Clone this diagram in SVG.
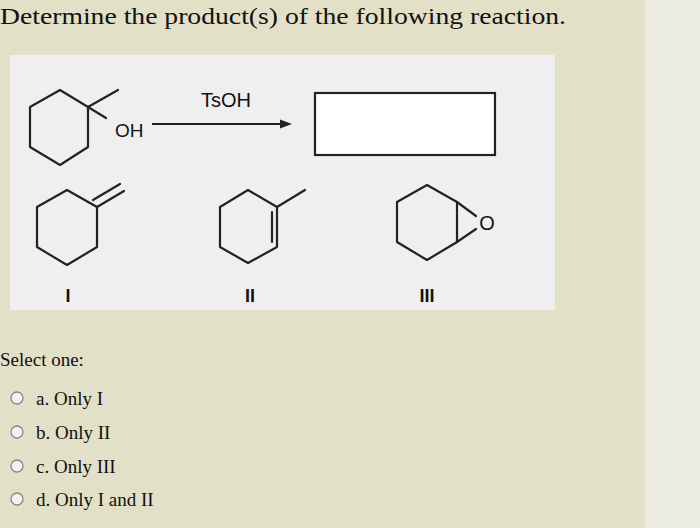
<svg xmlns="http://www.w3.org/2000/svg" width="700" height="528" viewBox="0 0 700 528">
<style>
.b{fill:none;stroke:#222;stroke-width:2.2;stroke-linecap:round;stroke-linejoin:round}
.s{font-family:"Liberation Sans",Arial,sans-serif;fill:#111}
.t{font-family:"Liberation Serif","DejaVu Serif",serif;fill:#111}
</style>
<rect width="700" height="528" fill="#e2e0c6"/>
<rect x="645" y="0" width="55" height="528" fill="#ecebe0"/>
<text class="t" x="0" y="24" font-size="24" textLength="566" lengthAdjust="spacingAndGlyphs">Determine the product(s) of the following reaction.</text>
<rect x="10" y="55" width="545" height="255" fill="#efefef"/>
<g id="reactant">
<polygon class="b" points="60,90 30,107 30,147 60,165 88,147 88,107"/>
<line class="b" x1="88" y1="107" x2="118" y2="90"/>
<line class="b" x1="88" y1="107" x2="106" y2="118"/>
<text class="s" x="115" y="137" font-size="19">OH</text>
</g>
<g id="connectors">
<line x1="152" y1="124" x2="284" y2="124" stroke="#222" stroke-width="2"/>
<polygon points="292,124 280,119.5 280,128.5" fill="#222"/>
<text class="s" x="226" y="107" font-size="20" text-anchor="middle">TsOH</text>
</g>
<g id="answer-box">
<rect x="315" y="93" width="180" height="62" fill="#fff" stroke="#222" stroke-width="2.2"/>
</g>
<g id="product-I">
<polygon class="b" points="67,190 37,207 37,247 67,265 97,247 97,207"/>
<line class="b" x1="97" y1="207" x2="124" y2="191"/>
<line class="b" x1="93" y1="200" x2="120" y2="184"/>
<text class="s" x="68" y="302" font-size="18" font-weight="bold" text-anchor="middle">I</text>
</g>
<g id="product-II">
<polygon class="b" points="248,190 220,207 220,247 248,263 277,247 277,207"/>
<line class="b" x1="277" y1="207" x2="305" y2="190"/>
<line class="b" x1="272" y1="212" x2="272" y2="242"/>
<text class="s" x="250" y="302" font-size="18" font-weight="bold" text-anchor="middle">II</text>
</g>
<g id="product-III">
<polygon class="b" points="427,185 397,202 397,242 427,260 457,242 457,202"/>
<line class="b" x1="457" y1="202" x2="476" y2="216"/>
<line class="b" x1="457" y1="242" x2="476" y2="229"/>
<text class="s" x="487" y="230" font-size="20" text-anchor="middle">O</text>
<text class="s" x="427" y="302" font-size="18" font-weight="bold" text-anchor="middle">III</text>
</g>
<g id="options">
<text class="t" x="0" y="366" font-size="19">Select one:</text>
<g fill="#f4f4f4" stroke="#888" stroke-width="1.3">
<circle cx="17" cy="398" r="6"/><circle cx="17" cy="432" r="6"/><circle cx="17" cy="466" r="6"/><circle cx="17" cy="499" r="6"/>
</g>
<text class="t" x="36" y="405" font-size="19">a. Only I</text>
<text class="t" x="36" y="439" font-size="19">b. Only II</text>
<text class="t" x="36" y="473" font-size="19">c. Only III</text>
<text class="t" x="36" y="506" font-size="19">d. Only I and II</text>
</g>
</svg>
